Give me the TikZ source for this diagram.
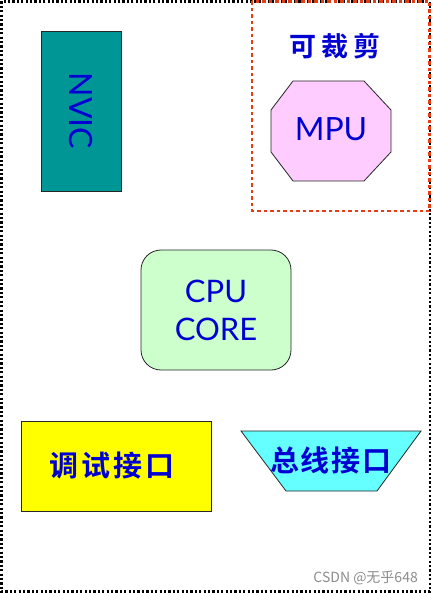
\documentclass[tikz,border=0pt]{standalone}
\usepackage{fontspec}
\setmainfont{Lato}
\newfontfamily\cjk{Noto Sans CJK SC}
\newfontfamily\cjkb{Noto Sans CJK SC Bold}
\usetikzlibrary{positioning}
\definecolor{txtblue}{RGB}{0,0,210}
\definecolor{nvicfill}{RGB}{0,150,150}
\definecolor{mpufill}{RGB}{255,204,255}
\definecolor{cpufill}{RGB}{204,255,204}
\definecolor{dbgfill}{RGB}{255,255,0}
\definecolor{busfill}{RGB}{102,255,255}
\definecolor{cutred}{RGB}{230,60,20}
\tikzset{
  blockline/.style={draw=black!85,line width=0.8pt},
  latinlbl/.style={text=txtblue,font=\fontsize{32}{34}\selectfont,align=center},
  cnlbl/.style={text=txtblue,font=\cjkb\fontsize{27}{29}\selectfont},
}
\begin{document}
\begin{tikzpicture}[x=1pt,y=-1pt]
\useasboundingbox (0,0) rectangle (433,593);
% outer dotted frame
\draw[black,line width=2.4pt,dash pattern=on 2.2pt off 2.2pt] (1.5,1.5) rectangle (430,591.5);
% optional (red dashed) region
\draw[cutred,line width=2.6pt,dash pattern=on 3.5pt off 3pt] (252,1.5) rectangle (429.5,211);
% NVIC
\node[blockline,fill=nvicfill,rotate=-90,minimum width=160pt,minimum height=80pt,inner sep=0pt,latinlbl] (nvic) at (81,111) {NVIC};
% label of the cut-able region
\node[cnlbl] (cut) at (335,46) {可\hspace{5pt}裁\hspace{5pt}剪};
% MPU octagon
\coordinate (o1) at (293,81);
\coordinate (o2) at (364,81);
\coordinate (o3) at (391,110);
\coordinate (o4) at (391,152);
\coordinate (o5) at (364,181);
\coordinate (o6) at (293,181);
\coordinate (o7) at (271,152);
\coordinate (o8) at (271,110);
\draw[blockline,fill=mpufill] (o1)--(o2)--(o3)--(o4)--(o5)--(o6)--(o7)--(o8)--cycle;
\node[latinlbl] (mpu) at (331,129) {MPU};
% CPU core
\node[blockline,fill=cpufill,rounded corners=20pt,minimum width=150pt,minimum height=120pt,inner sep=0pt,latinlbl,font=\fontsize{31}{38}\selectfont] (cpu) at (216,310) {CPU\\CORE};
% debug interface
\node[blockline,fill=dbgfill,minimum width=190pt,minimum height=90pt,inner sep=0pt,cnlbl,font=\cjkb\fontsize{29}{31}\selectfont] (dbg) at (116,466) {\hspace{-8pt}调\hspace{3pt}试\hspace{3pt}接\hspace{3pt}口};
% bus interface trapezoid
\coordinate (t1) at (241,431);
\coordinate (t2) at (421,431);
\coordinate (t3) at (377,491);
\coordinate (t4) at (286,491);
\draw[blockline,fill=busfill] (t1)--(t2)--(t3)--(t4)--cycle;
\node[cnlbl,font=\cjkb\fontsize{29}{31}\selectfont] (bus) at (331,460) {总\hspace{2pt}线\hspace{2pt}接\hspace{2pt}口};
% watermark
\node[anchor=base east,text=black!45,font=\cjk\fontsize{14}{16}\selectfont,inner sep=0pt] (wm) at (418,582) {CSDN @无乎648};
\end{tikzpicture}
\end{document}
